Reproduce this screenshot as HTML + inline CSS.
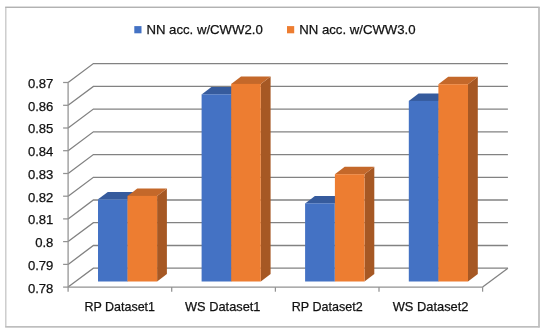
<!DOCTYPE html>
<html><head><meta charset="utf-8"><title>chart</title>
<style>
html,body{margin:0;padding:0;background:#fff;}
body{width:550px;height:336px;overflow:hidden;font-family:"Liberation Sans",sans-serif;}
svg{display:block}
text{font-family:"Liberation Sans",sans-serif;fill:#111;stroke:#111;stroke-width:0.25;}
</style></head><body>
<svg width="550" height="336" viewBox="0 0 550 336">
<rect x="0" y="0" width="550" height="336" fill="#ffffff"/>
<rect x="5.8" y="7.3" width="533.2" height="319.5" fill="#ffffff" stroke="#c6c6c6" stroke-width="1.3"/>
<line x1="5.2" y1="7.3" x2="539.6" y2="7.3" stroke="#b2b2b2" stroke-width="1.3"/>
<line x1="539" y1="7.3" x2="539" y2="327.4" stroke="#bebebe" stroke-width="1.5"/>
<line x1="5.2" y1="326.8" x2="539.6" y2="326.8" stroke="#bebebe" stroke-width="1.5"/>

<g fill="none" stroke="#828282" stroke-width="1.3">
<polyline points="68.1,287.1 93.4,268.2 507.9,268.2"/>
<polyline points="68.1,264.4 93.4,245.5 507.9,245.5"/>
<polyline points="68.1,241.6 93.4,222.7 507.9,222.7"/>
<polyline points="68.1,218.9 93.4,200.0 507.9,200.0"/>
<polyline points="68.1,196.2 93.4,177.3 507.9,177.3"/>
<polyline points="68.1,173.5 93.4,154.6 507.9,154.6"/>
<polyline points="68.1,150.7 93.4,131.8 507.9,131.8"/>
<polyline points="68.1,128.0 93.4,109.1 507.9,109.1"/>
<polyline points="68.1,105.3 93.4,86.4 507.9,86.4"/>
<polyline points="68.1,82.5 93.4,63.6 507.9,63.6"/>
<line x1="482.6" y1="287.1" x2="507.9" y2="268.2"/>
</g>
<polygon points="127.6,199.3 137.4,191.9 137.4,274.1 127.6,281.5" fill="#2f4f89"/>
<polygon points="98.0,199.3 107.8,191.9 137.4,191.9 127.6,199.3" fill="#365b9d"/>
<rect x="98.0" y="199.3" width="29.6" height="82.2" fill="#4472c4"/>
<polygon points="157.1,195.9 166.9,188.5 166.9,274.1 157.1,281.5" fill="#a65824"/>
<polygon points="127.5,195.9 137.3,188.5 166.9,188.5 157.1,195.9" fill="#c4682a"/>
<rect x="127.5" y="195.9" width="29.6" height="85.6" fill="#ed7d31"/>
<polygon points="231.2,94.4 241.0,87.0 241.0,274.1 231.2,281.5" fill="#2f4f89"/>
<polygon points="201.6,94.4 211.4,87.0 241.0,87.0 231.2,94.4" fill="#365b9d"/>
<rect x="201.6" y="94.4" width="29.6" height="187.1" fill="#4472c4"/>
<polygon points="260.8,83.9 270.6,76.5 270.6,274.1 260.8,281.5" fill="#a65824"/>
<polygon points="231.2,83.9 241.0,76.5 270.6,76.5 260.8,83.9" fill="#c4682a"/>
<rect x="231.2" y="83.9" width="29.6" height="197.6" fill="#ed7d31"/>
<polygon points="334.7,203.4 344.5,196.0 344.5,274.1 334.7,281.5" fill="#2f4f89"/>
<polygon points="305.1,203.4 314.9,196.0 344.5,196.0 334.7,203.4" fill="#365b9d"/>
<rect x="305.1" y="203.4" width="29.6" height="78.1" fill="#4472c4"/>
<polygon points="364.5,174.2 374.3,166.8 374.3,274.1 364.5,281.5" fill="#a65824"/>
<polygon points="334.9,174.2 344.7,166.8 374.3,166.8 364.5,174.2" fill="#c4682a"/>
<rect x="334.9" y="174.2" width="29.6" height="107.3" fill="#ed7d31"/>
<polygon points="438.4,100.9 448.2,93.5 448.2,274.1 438.4,281.5" fill="#2f4f89"/>
<polygon points="408.8,100.9 418.6,93.5 448.2,93.5 438.4,100.9" fill="#365b9d"/>
<rect x="408.8" y="100.9" width="29.6" height="180.6" fill="#4472c4"/>
<polygon points="468.0,84.2 477.8,76.8 477.8,274.1 468.0,281.5" fill="#a65824"/>
<polygon points="438.4,84.2 448.2,76.8 477.8,76.8 468.0,84.2" fill="#c4682a"/>
<rect x="438.4" y="84.2" width="29.6" height="197.3" fill="#ed7d31"/>
<g fill="none" stroke="#929292" stroke-width="1.25">
<line x1="68.1" y1="82.5" x2="68.1" y2="291.7"/>
<line x1="68.1" y1="287.1" x2="482.6" y2="287.1"/>
<line x1="63.1" y1="287.1" x2="68.1" y2="287.1"/>
<line x1="63.1" y1="264.4" x2="68.1" y2="264.4"/>
<line x1="63.1" y1="241.6" x2="68.1" y2="241.6"/>
<line x1="63.1" y1="218.9" x2="68.1" y2="218.9"/>
<line x1="63.1" y1="196.2" x2="68.1" y2="196.2"/>
<line x1="63.1" y1="173.5" x2="68.1" y2="173.5"/>
<line x1="63.1" y1="150.7" x2="68.1" y2="150.7"/>
<line x1="63.1" y1="128.0" x2="68.1" y2="128.0"/>
<line x1="63.1" y1="105.3" x2="68.1" y2="105.3"/>
<line x1="63.1" y1="82.5" x2="68.1" y2="82.5"/>
<line x1="171.7" y1="287.1" x2="171.7" y2="291.7"/>
<line x1="275.4" y1="287.1" x2="275.4" y2="291.7"/>
<line x1="379.0" y1="287.1" x2="379.0" y2="291.7"/>
<line x1="482.6" y1="287.1" x2="482.6" y2="291.7"/>
</g>
<text x="53.4" y="292.5" font-size="13.1" text-anchor="end">0.78</text>
<text x="53.4" y="269.8" font-size="13.1" text-anchor="end">0.79</text>
<text x="53.4" y="247.0" font-size="13.1" text-anchor="end">0.8</text>
<text x="53.4" y="224.3" font-size="13.1" text-anchor="end">0.81</text>
<text x="53.4" y="201.6" font-size="13.1" text-anchor="end">0.82</text>
<text x="53.4" y="178.9" font-size="13.1" text-anchor="end">0.83</text>
<text x="53.4" y="156.1" font-size="13.1" text-anchor="end">0.84</text>
<text x="53.4" y="133.4" font-size="13.1" text-anchor="end">0.85</text>
<text x="53.4" y="110.7" font-size="13.1" text-anchor="end">0.86</text>
<text x="53.4" y="87.9" font-size="13.1" text-anchor="end">0.87</text>
<text x="84.5" y="310.9" font-size="13.1" textLength="70.5" lengthAdjust="spacingAndGlyphs">RP Dataset1</text>
<text x="185.0" y="310.9" font-size="13.1" textLength="75.5" lengthAdjust="spacingAndGlyphs">WS Dataset1</text>
<text x="291.8" y="310.9" font-size="13.1" textLength="70.9" lengthAdjust="spacingAndGlyphs">RP Dataset2</text>
<text x="392.7" y="310.9" font-size="13.1" textLength="75.8" lengthAdjust="spacingAndGlyphs">WS Dataset2</text>
<rect x="134.3" y="26.1" width="7.2" height="7.2" fill="#4472c4"/>
<text x="146.4" y="34.1" font-size="13.3" textLength="116.4" lengthAdjust="spacingAndGlyphs">NN acc. w/CWW2.0</text>
<rect x="287" y="26.1" width="7.2" height="7.2" fill="#ed7d31"/>
<text x="299.2" y="34.1" font-size="13.3" textLength="116.4" lengthAdjust="spacingAndGlyphs">NN acc. w/CWW3.0</text>
</svg></body></html>
